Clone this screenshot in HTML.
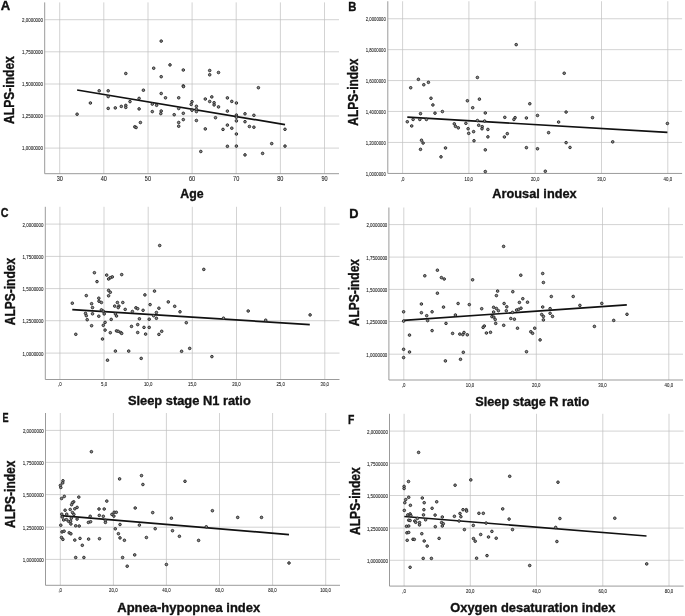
<!DOCTYPE html>
<html lang="en">
<head>
<meta charset="utf-8">
<title>ALPS-index scatter plots</title>
<style>
html,body{margin:0;padding:0;background:#fff;}
body{width:685px;height:616px;overflow:hidden;}
svg{display:block;}
text{font-family:"Liberation Sans",sans-serif;}
.b{font-weight:bold;font-size:12.8px;fill:#111;stroke:#111;stroke-width:0.35;}
.yl{font-size:13.9px;}
.ti{font-size:13.1px;}
.le{font-size:13.2px;}
.t{font-size:5.5px;fill:#262626;stroke:#262626;stroke-width:0.1;}
.g{stroke:#c0c0c0;stroke-width:0.7;fill:none;}
.ax{stroke:#909090;stroke-width:0.9;fill:none;}
.fit{stroke:#111;stroke-width:1.7;fill:none;stroke-linecap:butt;}
.p circle{fill:#8c8c8c;stroke:#222;stroke-width:0.9;}
</style>
</head>
<body>
<svg width="685" height="616" viewBox="0 0 685 616">
<rect width="685" height="616" fill="#ffffff"/>
<g id="panel-A">
<g transform="translate(0 0.4)">
<path class="g" d="M59.7 2V173.3M103.8 2V173.3M148 2V173.3M192.1 2V173.3M236.2 2V173.3M280.4 2V173.3M324.5 2V173.3M44.7 19.3H339M44.7 51.4H339M44.7 83.6H339M44.7 115.6H339M44.7 147.7H339"/>
<path class="ax" d="M44.7 2V173.3H339"/>
<text class="t" transform="translate(22.08 21.30) scale(0.8071 1)">2,0000000</text>
<text class="t" transform="translate(21.99 53.40) scale(0.8105 1)">1,7500000</text>
<text class="t" transform="translate(21.99 85.60) scale(0.8105 1)">1,5000000</text>
<text class="t" transform="translate(21.99 117.60) scale(0.8105 1)">1,2500000</text>
<text class="t" transform="translate(21.99 149.70) scale(0.8105 1)">1,0000000</text>
<text class="t" style="font-size:6.6px" transform="translate(56.63 180.61) scale(0.8400 1)">30</text>
<text class="t" style="font-size:6.6px" transform="translate(100.79 180.61) scale(0.8400 1)">40</text>
<text class="t" style="font-size:6.6px" transform="translate(144.87 180.61) scale(0.8400 1)">50</text>
<text class="t" style="font-size:6.6px" transform="translate(188.97 180.61) scale(0.8400 1)">60</text>
<text class="t" style="font-size:6.6px" transform="translate(233.10 180.61) scale(0.8400 1)">70</text>
<text class="t" style="font-size:6.6px" transform="translate(277.26 180.61) scale(0.8400 1)">80</text>
<text class="t" style="font-size:6.6px" transform="translate(321.39 180.61) scale(0.8400 1)">90</text>
<line class="fit" x1="77.1" y1="89.6" x2="285" y2="124.2"/>
<g class="p"><circle cx="77.1" cy="113.8" r="1.3"/><circle cx="90.4" cy="102.6" r="1.3"/><circle cx="99.2" cy="90.4" r="1.3"/><circle cx="108.2" cy="90.4" r="1.3"/><circle cx="108.2" cy="96.2" r="1.3"/><circle cx="108.2" cy="108" r="1.3"/><circle cx="115.3" cy="107.5" r="1.3"/><circle cx="121.3" cy="106" r="1.3"/><circle cx="125.8" cy="73.1" r="1.3"/><circle cx="125.8" cy="105" r="1.3"/><circle cx="125.8" cy="107" r="1.3"/><circle cx="130" cy="101.2" r="1.3"/><circle cx="134.8" cy="126.4" r="1.3"/><circle cx="136.1" cy="127.1" r="1.3"/><circle cx="139.1" cy="98" r="1.3"/><circle cx="139.1" cy="108.5" r="1.3"/><circle cx="140.4" cy="122.1" r="1.3"/><circle cx="143.4" cy="89.8" r="1.3"/><circle cx="153.7" cy="67.8" r="1.3"/><circle cx="152.3" cy="103.7" r="1.3"/><circle cx="152.3" cy="111.2" r="1.3"/><circle cx="156.6" cy="104.9" r="1.3"/><circle cx="161.2" cy="40.7" r="1.3"/><circle cx="161.2" cy="76.3" r="1.3"/><circle cx="161.2" cy="93.1" r="1.3"/><circle cx="161.2" cy="110.6" r="1.3"/><circle cx="160.8" cy="113.2" r="1.3"/><circle cx="165.5" cy="97.4" r="1.3"/><circle cx="170" cy="64.5" r="1.3"/><circle cx="174.2" cy="114.3" r="1.3"/><circle cx="178.7" cy="97.4" r="1.3"/><circle cx="178.7" cy="108.1" r="1.3"/><circle cx="178.7" cy="122.1" r="1.3"/><circle cx="178.7" cy="125.8" r="1.3"/><circle cx="183.3" cy="69.6" r="1.3"/><circle cx="183.3" cy="85.5" r="1.3"/><circle cx="183.5" cy="86.2" r="1.3"/><circle cx="183.3" cy="112.9" r="1.3"/><circle cx="183.3" cy="119.2" r="1.3"/><circle cx="192" cy="101.3" r="1.3"/><circle cx="191.2" cy="104" r="1.3"/><circle cx="192" cy="109.8" r="1.3"/><circle cx="196.4" cy="105.9" r="1.3"/><circle cx="196.4" cy="108.9" r="1.3"/><circle cx="196.4" cy="111.2" r="1.3"/><circle cx="196.4" cy="120.1" r="1.3"/><circle cx="200.8" cy="151.1" r="1.3"/><circle cx="205.3" cy="98.6" r="1.3"/><circle cx="205.3" cy="128.5" r="1.3"/><circle cx="209.7" cy="70.1" r="1.3"/><circle cx="209.7" cy="74.4" r="1.3"/><circle cx="209.7" cy="101.1" r="1.3"/><circle cx="211.8" cy="96.5" r="1.3"/><circle cx="214.1" cy="102.3" r="1.3"/><circle cx="214.1" cy="104.5" r="1.3"/><circle cx="215.5" cy="117.3" r="1.3"/><circle cx="218.5" cy="72.1" r="1.3"/><circle cx="218.5" cy="106.5" r="1.3"/><circle cx="223" cy="129" r="1.3"/><circle cx="227.4" cy="97.5" r="1.3"/><circle cx="227.4" cy="110.7" r="1.3"/><circle cx="227.4" cy="124.7" r="1.3"/><circle cx="227.4" cy="145.9" r="1.3"/><circle cx="231.8" cy="101" r="1.3"/><circle cx="231.8" cy="127.8" r="1.3"/><circle cx="236.4" cy="102.6" r="1.3"/><circle cx="236.4" cy="114.7" r="1.3"/><circle cx="236.4" cy="116.8" r="1.3"/><circle cx="236.4" cy="120.5" r="1.3"/><circle cx="236.4" cy="133.6" r="1.3"/><circle cx="236.4" cy="145.7" r="1.3"/><circle cx="245" cy="113.4" r="1.3"/><circle cx="245" cy="121.3" r="1.3"/><circle cx="245" cy="154.5" r="1.3"/><circle cx="249.4" cy="126.1" r="1.3"/><circle cx="253.9" cy="114.9" r="1.3"/><circle cx="253.9" cy="126.8" r="1.3"/><circle cx="258.4" cy="87.3" r="1.3"/><circle cx="262.6" cy="153" r="1.3"/><circle cx="271.7" cy="143.2" r="1.3"/><circle cx="285" cy="128.9" r="1.3"/><circle cx="285" cy="145.7" r="1.3"/></g>
</g>
<text class="b ti" transform="translate(180.25 197.90) scale(0.9402 1)">Age</text>
<text class="b le" transform="translate(0.74 10.00) scale(0.9915 1)">A</text>
<text class="b yl" transform="translate(13.70 123.70) rotate(-90) scale(0.8694 1) translate(-0.28 0)">ALPS-index</text>
</g>
<g id="panel-B">
<g transform="translate(0.1 0.25)">
<path class="g" d="M402.5 1V173.2M468.8 1V173.2M535.1 1V173.2M601.4 1V173.2M667.7 1V173.2M387.7 18.5H682M387.7 49.4H682M387.7 80.3H682M387.7 111.2H682M387.7 142.2H682"/>
<path class="ax" d="M387.7 1V173.2H682"/>
<text class="t" transform="translate(365.69 20.90) scale(0.7718 1)">2,0000000</text>
<text class="t" transform="translate(365.60 51.80) scale(0.7751 1)">1,8000000</text>
<text class="t" transform="translate(365.60 82.70) scale(0.7751 1)">1,6000000</text>
<text class="t" transform="translate(365.60 113.60) scale(0.7751 1)">1,4000000</text>
<text class="t" transform="translate(365.60 144.60) scale(0.7751 1)">1,2000000</text>
<text class="t" transform="translate(365.60 175.60) scale(0.7751 1)">1,0000000</text>
<text class="t" transform="translate(400.59 180.43) scale(0.7900 1)">,0</text>
<text class="t" transform="translate(464.50 180.43) scale(0.7900 1)">10,0</text>
<text class="t" transform="translate(530.84 180.43) scale(0.7900 1)">20,0</text>
<text class="t" transform="translate(597.19 180.43) scale(0.7900 1)">30,0</text>
<text class="t" transform="translate(663.51 180.43) scale(0.7900 1)">40,0</text>
<line class="fit" x1="407.2" y1="116.8" x2="667.3" y2="132.2"/>
<g class="p"><circle cx="418.3" cy="79.1" r="1.3"/><circle cx="428.3" cy="82.1" r="1.3"/><circle cx="423.7" cy="84.5" r="1.3"/><circle cx="410.6" cy="87.5" r="1.3"/><circle cx="477.3" cy="77.2" r="1.3"/><circle cx="430.9" cy="98" r="1.3"/><circle cx="432.8" cy="104.7" r="1.3"/><circle cx="467.3" cy="100.5" r="1.3"/><circle cx="479.3" cy="98.9" r="1.3"/><circle cx="472.6" cy="107.5" r="1.3"/><circle cx="420.4" cy="113.4" r="1.3"/><circle cx="434.9" cy="112.9" r="1.3"/><circle cx="442.3" cy="111.3" r="1.3"/><circle cx="485.2" cy="112.7" r="1.3"/><circle cx="407.2" cy="121.5" r="1.3"/><circle cx="413" cy="119.2" r="1.3"/><circle cx="419.7" cy="119.2" r="1.3"/><circle cx="426.3" cy="119.2" r="1.3"/><circle cx="411.6" cy="125.7" r="1.3"/><circle cx="454.2" cy="123.6" r="1.3"/><circle cx="455.4" cy="126.1" r="1.3"/><circle cx="458.2" cy="127.6" r="1.3"/><circle cx="465.8" cy="123.1" r="1.3"/><circle cx="468" cy="128.5" r="1.3"/><circle cx="468.6" cy="133.1" r="1.3"/><circle cx="473.5" cy="131.4" r="1.3"/><circle cx="477.3" cy="120.3" r="1.3"/><circle cx="478.6" cy="125" r="1.3"/><circle cx="482.1" cy="126.4" r="1.3"/><circle cx="481.9" cy="128.5" r="1.3"/><circle cx="484.5" cy="120.8" r="1.3"/><circle cx="487.8" cy="129.2" r="1.3"/><circle cx="487.8" cy="136.6" r="1.3"/><circle cx="473.9" cy="140.5" r="1.3"/><circle cx="421.4" cy="140" r="1.3"/><circle cx="504.7" cy="117.1" r="1.3"/><circle cx="504.3" cy="136.7" r="1.3"/><circle cx="423" cy="142.8" r="1.3"/><circle cx="420.4" cy="149.1" r="1.3"/><circle cx="445.4" cy="147.7" r="1.3"/><circle cx="440.9" cy="156.6" r="1.3"/><circle cx="485.2" cy="149.6" r="1.3"/><circle cx="485.2" cy="171.3" r="1.3"/><circle cx="516.1" cy="44.4" r="1.3"/><circle cx="564.1" cy="73" r="1.3"/><circle cx="529.7" cy="103.5" r="1.3"/><circle cx="566" cy="111.8" r="1.3"/><circle cx="537.4" cy="115.2" r="1.3"/><circle cx="515" cy="117.4" r="1.3"/><circle cx="513.8" cy="119.2" r="1.3"/><circle cx="526.3" cy="117.7" r="1.3"/><circle cx="558.5" cy="121.8" r="1.3"/><circle cx="592.4" cy="117.4" r="1.3"/><circle cx="667.3" cy="123.2" r="1.3"/><circle cx="507.2" cy="133.4" r="1.3"/><circle cx="548.5" cy="132.4" r="1.3"/><circle cx="566" cy="142.4" r="1.3"/><circle cx="569.9" cy="147.2" r="1.3"/><circle cx="526.3" cy="147.4" r="1.3"/><circle cx="537.4" cy="148.5" r="1.3"/><circle cx="545.2" cy="171" r="1.3"/><circle cx="612.6" cy="141.6" r="1.3"/></g>
</g>
<text class="b ti" transform="translate(492.34 198.20) scale(0.9747 1)">Arousal index</text>
<text class="b le" transform="translate(348.22 10.90) scale(0.8553 1)">B</text>
<text class="b yl" transform="translate(357.90 125.40) rotate(-90) scale(0.8604 1) translate(-0.28 0)">ALPS-index</text>
</g>
<g id="panel-C">
<g transform="translate(0 0)">
<path class="g" d="M59.9 206.8V379.5M104 206.8V379.5M148.2 206.8V379.5M192.3 206.8V379.5M236.5 206.8V379.5M280.6 206.8V379.5M324.8 206.8V379.5M45.3 224.1H339.5M45.3 256.4H339.5M45.3 288.6H339.5M45.3 320.7H339.5M45.3 353.1H339.5"/>
<path class="ax" d="M45.3 206.8V379.5H339.5"/>
<text class="t" transform="translate(22.58 226.50) scale(0.8071 1)">2,0000000</text>
<text class="t" transform="translate(22.49 258.80) scale(0.8105 1)">1,7500000</text>
<text class="t" transform="translate(22.49 291.00) scale(0.8105 1)">1,5000000</text>
<text class="t" transform="translate(22.49 323.10) scale(0.8105 1)">1,2500000</text>
<text class="t" transform="translate(22.49 355.50) scale(0.8105 1)">1,0000000</text>
<text class="t" transform="translate(57.99 386.12) scale(0.7900 1)">,0</text>
<text class="t" transform="translate(101.02 386.12) scale(0.7900 1)">5,0</text>
<text class="t" transform="translate(143.90 386.12) scale(0.7900 1)">10,0</text>
<text class="t" transform="translate(188.05 386.12) scale(0.7900 1)">15,0</text>
<text class="t" transform="translate(232.24 386.12) scale(0.7900 1)">20,0</text>
<text class="t" transform="translate(276.39 386.12) scale(0.7900 1)">25,0</text>
<text class="t" transform="translate(320.59 386.12) scale(0.7900 1)">30,0</text>
<line class="fit" x1="72.3" y1="309.7" x2="309.8" y2="324.6"/>
<g class="p"><circle cx="159.7" cy="245.5" r="1.3"/><circle cx="94.4" cy="272.7" r="1.3"/><circle cx="106.7" cy="275.1" r="1.3"/><circle cx="112.3" cy="276.9" r="1.3"/><circle cx="110.3" cy="277.7" r="1.3"/><circle cx="108.6" cy="279" r="1.3"/><circle cx="121.7" cy="274.6" r="1.3"/><circle cx="97" cy="281.6" r="1.3"/><circle cx="108.6" cy="290.4" r="1.3"/><circle cx="110.3" cy="292.3" r="1.3"/><circle cx="108.6" cy="295.8" r="1.3"/><circle cx="86.3" cy="295.6" r="1.3"/><circle cx="98.8" cy="298.2" r="1.3"/><circle cx="99" cy="301.2" r="1.3"/><circle cx="101.4" cy="302.5" r="1.3"/><circle cx="72.3" cy="303.2" r="1.3"/><circle cx="91.6" cy="303.7" r="1.3"/><circle cx="117.4" cy="302.5" r="1.3"/><circle cx="122.8" cy="302.5" r="1.3"/><circle cx="114.7" cy="306.1" r="1.3"/><circle cx="118.9" cy="306.1" r="1.3"/><circle cx="144.9" cy="294.9" r="1.3"/><circle cx="154.5" cy="291.1" r="1.3"/><circle cx="150.1" cy="304.6" r="1.3"/><circle cx="92.5" cy="307.6" r="1.3"/><circle cx="118.2" cy="307.6" r="1.3"/><circle cx="135.9" cy="307.8" r="1.3"/><circle cx="137.7" cy="308.7" r="1.3"/><circle cx="125.2" cy="309.4" r="1.3"/><circle cx="143.1" cy="310.3" r="1.3"/><circle cx="158.9" cy="308.2" r="1.3"/><circle cx="132.4" cy="311.5" r="1.3"/><circle cx="101.4" cy="309.9" r="1.3"/><circle cx="103.2" cy="311.1" r="1.3"/><circle cx="85.5" cy="313.4" r="1.3"/><circle cx="86.3" cy="315.7" r="1.3"/><circle cx="92.5" cy="313.8" r="1.3"/><circle cx="98.8" cy="316.2" r="1.3"/><circle cx="104.2" cy="313.9" r="1.3"/><circle cx="115.4" cy="313.9" r="1.3"/><circle cx="116.5" cy="316" r="1.3"/><circle cx="87.2" cy="319.7" r="1.3"/><circle cx="111.2" cy="319.4" r="1.3"/><circle cx="156.4" cy="312.5" r="1.3"/><circle cx="153.6" cy="315.7" r="1.3"/><circle cx="156.4" cy="318.3" r="1.3"/><circle cx="139.4" cy="318.8" r="1.3"/><circle cx="149.2" cy="319.2" r="1.3"/><circle cx="105.1" cy="322.4" r="1.3"/><circle cx="103.3" cy="325.3" r="1.3"/><circle cx="91.6" cy="325.7" r="1.3"/><circle cx="137.7" cy="324.6" r="1.3"/><circle cx="131.5" cy="326.4" r="1.3"/><circle cx="144" cy="327.4" r="1.3"/><circle cx="149.2" cy="327.4" r="1.3"/><circle cx="105.1" cy="330.1" r="1.3"/><circle cx="110.3" cy="332.7" r="1.3"/><circle cx="116.5" cy="330.9" r="1.3"/><circle cx="118.2" cy="331.3" r="1.3"/><circle cx="120.7" cy="332.5" r="1.3"/><circle cx="121.7" cy="333.4" r="1.3"/><circle cx="137.7" cy="332.5" r="1.3"/><circle cx="145.6" cy="334.1" r="1.3"/><circle cx="161.7" cy="331.3" r="1.3"/><circle cx="158.9" cy="334.4" r="1.3"/><circle cx="75.8" cy="334.3" r="1.3"/><circle cx="102.5" cy="339" r="1.3"/><circle cx="115.4" cy="351.1" r="1.3"/><circle cx="128.7" cy="351.1" r="1.3"/><circle cx="141.2" cy="358.4" r="1.3"/><circle cx="107.5" cy="360.2" r="1.3"/><circle cx="203.8" cy="269.4" r="1.3"/><circle cx="168.3" cy="301.9" r="1.3"/><circle cx="174.7" cy="306.3" r="1.3"/><circle cx="180" cy="311.8" r="1.3"/><circle cx="186.3" cy="322.7" r="1.3"/><circle cx="189.7" cy="348.4" r="1.3"/><circle cx="223.5" cy="318.2" r="1.3"/><circle cx="248.2" cy="311" r="1.3"/><circle cx="265.7" cy="320.2" r="1.3"/><circle cx="310.1" cy="314.9" r="1.3"/><circle cx="181.6" cy="351.3" r="1.3"/><circle cx="211.9" cy="356.6" r="1.3"/></g>
</g>
<text class="b ti" transform="translate(127.94 405.00) scale(0.9811 1)">Sleep stage N1 ratio</text>
<text class="b le" transform="translate(0.67 216.80) scale(0.8150 1)">C</text>
<text class="b yl" transform="translate(15.00 324.90) rotate(-90) scale(0.8617 1) translate(-0.28 0)">ALPS-index</text>
</g>
<g id="panel-D">
<g transform="translate(0 0)">
<path class="g" d="M403.8 207.5V380M470.1 207.5V380M536.3 207.5V380M602.5 207.5V380M668.8 207.5V380M388.9 224.6H683M388.9 257.1H683M388.9 289.4H683M388.9 321.5H683M388.9 354.2H683"/>
<path class="ax" d="M388.9 207.5V380H683"/>
<text class="t" transform="translate(366.38 227.00) scale(0.8071 1)">2,0000000</text>
<text class="t" transform="translate(366.29 259.50) scale(0.8105 1)">1,7500000</text>
<text class="t" transform="translate(366.29 291.80) scale(0.8105 1)">1,5000000</text>
<text class="t" transform="translate(366.29 323.90) scale(0.8105 1)">1,2500000</text>
<text class="t" transform="translate(366.29 356.60) scale(0.8105 1)">1,0000000</text>
<text class="t" transform="translate(401.89 386.53) scale(0.7900 1)">,0</text>
<text class="t" transform="translate(465.75 386.53) scale(0.7900 1)">10,0</text>
<text class="t" transform="translate(532.04 386.53) scale(0.7900 1)">20,0</text>
<text class="t" transform="translate(598.34 386.53) scale(0.7900 1)">30,0</text>
<text class="t" transform="translate(664.61 386.53) scale(0.7900 1)">40,0</text>
<line class="fit" x1="403.6" y1="320.4" x2="626.8" y2="304.9"/>
<g class="p"><circle cx="503.6" cy="246.4" r="1.3"/><circle cx="437.4" cy="270.2" r="1.3"/><circle cx="424.8" cy="275.8" r="1.3"/><circle cx="441.4" cy="277.6" r="1.3"/><circle cx="444.2" cy="279" r="1.3"/><circle cx="472.6" cy="279.8" r="1.3"/><circle cx="437.4" cy="293.2" r="1.3"/><circle cx="497.6" cy="291.1" r="1.3"/><circle cx="496.4" cy="295.6" r="1.3"/><circle cx="421.4" cy="304" r="1.3"/><circle cx="458.1" cy="303.5" r="1.3"/><circle cx="469.3" cy="304.6" r="1.3"/><circle cx="504.1" cy="303.5" r="1.3"/><circle cx="443.5" cy="307.1" r="1.3"/><circle cx="493.6" cy="307.3" r="1.3"/><circle cx="496.4" cy="308.5" r="1.3"/><circle cx="481.7" cy="308.7" r="1.3"/><circle cx="498.4" cy="310.7" r="1.3"/><circle cx="493.6" cy="312" r="1.3"/><circle cx="403.6" cy="311.8" r="1.3"/><circle cx="421.4" cy="312.7" r="1.3"/><circle cx="432.1" cy="311.8" r="1.3"/><circle cx="426.7" cy="315.7" r="1.3"/><circle cx="455.4" cy="315" r="1.3"/><circle cx="491.9" cy="316.6" r="1.3"/><circle cx="493.8" cy="317.1" r="1.3"/><circle cx="495.2" cy="319.5" r="1.3"/><circle cx="403.6" cy="321.1" r="1.3"/><circle cx="427.6" cy="320.6" r="1.3"/><circle cx="446" cy="323.4" r="1.3"/><circle cx="495.7" cy="323.4" r="1.3"/><circle cx="503.7" cy="325.3" r="1.3"/><circle cx="484.3" cy="326" r="1.3"/><circle cx="483.1" cy="327.4" r="1.3"/><circle cx="432.1" cy="330.6" r="1.3"/><circle cx="452.6" cy="333.4" r="1.3"/><circle cx="459.8" cy="334.1" r="1.3"/><circle cx="464" cy="332.5" r="1.3"/><circle cx="462.8" cy="334.6" r="1.3"/><circle cx="467.3" cy="334.8" r="1.3"/><circle cx="486.4" cy="333" r="1.3"/><circle cx="490.5" cy="332.3" r="1.3"/><circle cx="409.5" cy="335.1" r="1.3"/><circle cx="403.6" cy="349.3" r="1.3"/><circle cx="409.5" cy="352" r="1.3"/><circle cx="463.3" cy="352.3" r="1.3"/><circle cx="403.6" cy="357.6" r="1.3"/><circle cx="460.5" cy="359.3" r="1.3"/><circle cx="445.4" cy="360.9" r="1.3"/><circle cx="543.4" cy="282.5" r="1.3"/><circle cx="512.8" cy="291.7" r="1.3"/><circle cx="551.3" cy="296.5" r="1.3"/><circle cx="573.2" cy="296.5" r="1.3"/><circle cx="522.8" cy="298.7" r="1.3"/><circle cx="519.4" cy="302.4" r="1.3"/><circle cx="527.5" cy="302.2" r="1.3"/><circle cx="506.8" cy="306.8" r="1.3"/><circle cx="506.3" cy="310.8" r="1.3"/><circle cx="512.4" cy="312.4" r="1.3"/><circle cx="516.6" cy="310" r="1.3"/><circle cx="518.7" cy="309.3" r="1.3"/><circle cx="521" cy="308.2" r="1.3"/><circle cx="542.7" cy="307" r="1.3"/><circle cx="550.1" cy="308.6" r="1.3"/><circle cx="579.9" cy="305.4" r="1.3"/><circle cx="601.8" cy="303.4" r="1.3"/><circle cx="510.8" cy="318.5" r="1.3"/><circle cx="514.4" cy="319.2" r="1.3"/><circle cx="517.5" cy="328.2" r="1.3"/><circle cx="541.7" cy="314.5" r="1.3"/><circle cx="543.4" cy="316.4" r="1.3"/><circle cx="550.1" cy="313.3" r="1.3"/><circle cx="552.5" cy="316.4" r="1.3"/><circle cx="543.4" cy="319.9" r="1.3"/><circle cx="534.7" cy="328.2" r="1.3"/><circle cx="530.8" cy="331.7" r="1.3"/><circle cx="532.6" cy="333.3" r="1.3"/><circle cx="540.1" cy="339.9" r="1.3"/><circle cx="594.4" cy="326.4" r="1.3"/><circle cx="526.5" cy="351.7" r="1.3"/><circle cx="520.8" cy="275.2" r="1.3"/><circle cx="542.7" cy="273.5" r="1.3"/><circle cx="627" cy="314.3" r="1.3"/><circle cx="613.7" cy="320.4" r="1.3"/></g>
</g>
<text class="b ti" transform="translate(475.35 406.00) scale(0.9678 1)">Sleep stage R ratio</text>
<text class="b le" transform="translate(349.23 217.60) scale(0.9740 1)">D</text>
<text class="b yl" transform="translate(358.90 326.00) rotate(-90) scale(0.8617 1) translate(-0.28 0)">ALPS-index</text>
</g>
<g id="panel-E">
<g transform="translate(0 0)">
<path class="g" d="M60.3 413V585.3M113.4 413V585.3M166.4 413V585.3M219.5 413V585.3M272.6 413V585.3M325.7 413V585.3M45.5 430.4H340M45.5 462.4H340M45.5 494.6H340M45.5 527.2H340M45.5 559.4H340"/>
<path class="ax" d="M45.5 413V585.3H340"/>
<text class="t" transform="translate(22.88 432.80) scale(0.8071 1)">2,0000000</text>
<text class="t" transform="translate(22.79 464.80) scale(0.8105 1)">1,7500000</text>
<text class="t" transform="translate(22.79 497.00) scale(0.8105 1)">1,5000000</text>
<text class="t" transform="translate(22.79 529.60) scale(0.8105 1)">1,2500000</text>
<text class="t" transform="translate(22.79 561.80) scale(0.8105 1)">1,0000000</text>
<text class="t" transform="translate(58.39 592.22) scale(0.7900 1)">,0</text>
<text class="t" transform="translate(109.11 592.22) scale(0.7900 1)">20,0</text>
<text class="t" transform="translate(162.25 592.22) scale(0.7900 1)">40,0</text>
<text class="t" transform="translate(215.25 592.22) scale(0.7900 1)">60,0</text>
<text class="t" transform="translate(268.34 592.22) scale(0.7900 1)">80,0</text>
<text class="t" transform="translate(320.14 592.22) scale(0.7900 1)">100,0</text>
<line class="fit" x1="60.8" y1="515.6" x2="289" y2="534.6"/>
<g class="p"><circle cx="91.4" cy="451.7" r="1.3"/><circle cx="63" cy="480.8" r="1.3"/><circle cx="62.7" cy="482.9" r="1.3"/><circle cx="60.4" cy="485.4" r="1.3"/><circle cx="60.8" cy="487.5" r="1.3"/><circle cx="119.6" cy="478.9" r="1.3"/><circle cx="141.5" cy="475.6" r="1.3"/><circle cx="142.9" cy="484.5" r="1.3"/><circle cx="64.3" cy="496.4" r="1.3"/><circle cx="61.6" cy="498.5" r="1.3"/><circle cx="78.8" cy="497.1" r="1.3"/><circle cx="73.7" cy="501.8" r="1.3"/><circle cx="72.5" cy="502.7" r="1.3"/><circle cx="71.6" cy="504.7" r="1.3"/><circle cx="106.8" cy="501.1" r="1.3"/><circle cx="77.1" cy="507.4" r="1.3"/><circle cx="74.8" cy="508.8" r="1.3"/><circle cx="70.2" cy="509.5" r="1.3"/><circle cx="65.1" cy="510.2" r="1.3"/><circle cx="99" cy="509" r="1.3"/><circle cx="104.2" cy="509" r="1.3"/><circle cx="135.2" cy="508" r="1.3"/><circle cx="152.7" cy="512.6" r="1.3"/><circle cx="114.2" cy="512.3" r="1.3"/><circle cx="116.3" cy="512.3" r="1.3"/><circle cx="111.9" cy="514.4" r="1.3"/><circle cx="113.9" cy="516.1" r="1.3"/><circle cx="99.3" cy="515.4" r="1.3"/><circle cx="103.3" cy="516.3" r="1.3"/><circle cx="90.2" cy="516.3" r="1.3"/><circle cx="72.5" cy="512.6" r="1.3"/><circle cx="73.9" cy="514.4" r="1.3"/><circle cx="61.8" cy="514.2" r="1.3"/><circle cx="66.7" cy="514.2" r="1.3"/><circle cx="62.2" cy="517" r="1.3"/><circle cx="63.7" cy="520" r="1.3"/><circle cx="66.4" cy="519.6" r="1.3"/><circle cx="71.3" cy="518.2" r="1.3"/><circle cx="77.1" cy="519.1" r="1.3"/><circle cx="68.7" cy="521.4" r="1.3"/><circle cx="70.6" cy="521.2" r="1.3"/><circle cx="70.9" cy="524" r="1.3"/><circle cx="60.8" cy="525.2" r="1.3"/><circle cx="75.7" cy="525.8" r="1.3"/><circle cx="79.2" cy="526" r="1.3"/><circle cx="88.4" cy="522.4" r="1.3"/><circle cx="90.6" cy="521.7" r="1.3"/><circle cx="105.4" cy="520.5" r="1.3"/><circle cx="105.4" cy="522.4" r="1.3"/><circle cx="120" cy="524.5" r="1.3"/><circle cx="139.4" cy="525.1" r="1.3"/><circle cx="155.2" cy="528.7" r="1.3"/><circle cx="115.3" cy="528.8" r="1.3"/><circle cx="118.4" cy="533.7" r="1.3"/><circle cx="120" cy="537.9" r="1.3"/><circle cx="124.4" cy="540.3" r="1.3"/><circle cx="146.4" cy="537.5" r="1.3"/><circle cx="62" cy="531.9" r="1.3"/><circle cx="64.1" cy="531.2" r="1.3"/><circle cx="69.2" cy="532.8" r="1.3"/><circle cx="70.9" cy="533.8" r="1.3"/><circle cx="61.5" cy="537.5" r="1.3"/><circle cx="62.9" cy="539.4" r="1.3"/><circle cx="74.8" cy="540.1" r="1.3"/><circle cx="80" cy="538.4" r="1.3"/><circle cx="88.6" cy="539.1" r="1.3"/><circle cx="99.5" cy="538.7" r="1.3"/><circle cx="82.3" cy="545.3" r="1.3"/><circle cx="75.7" cy="557.5" r="1.3"/><circle cx="83.9" cy="557.5" r="1.3"/><circle cx="122.6" cy="557.5" r="1.3"/><circle cx="134.7" cy="554.9" r="1.3"/><circle cx="127.2" cy="566.2" r="1.3"/><circle cx="185" cy="481.3" r="1.3"/><circle cx="171.4" cy="518.2" r="1.3"/><circle cx="212.4" cy="510.7" r="1.3"/><circle cx="237.7" cy="517.4" r="1.3"/><circle cx="261.5" cy="517.4" r="1.3"/><circle cx="206.3" cy="526.8" r="1.3"/><circle cx="172.5" cy="530.7" r="1.3"/><circle cx="179.4" cy="536.3" r="1.3"/><circle cx="198.6" cy="540.4" r="1.3"/><circle cx="166.4" cy="564.5" r="1.3"/><circle cx="289" cy="563" r="1.3"/></g>
</g>
<text class="b ti" transform="translate(117.24 611.50) scale(0.9925 1)">Apnea-hypopnea index</text>
<text class="b le" transform="translate(2.45 422.30) scale(0.6911 1)">E</text>
<text class="b yl" transform="translate(15.20 527.70) rotate(-90) scale(0.8642 1) translate(-0.28 0)">ALPS-index</text>
</g>
<g id="panel-F">
<g transform="translate(0 0)">
<path class="g" d="M404.1 413.8V586.1M470.3 413.8V586.1M536.5 413.8V586.1M602.8 413.8V586.1M669 413.8V586.1M389.5 431.1H683.6M389.5 463.2H683.6M389.5 495.5H683.6M389.5 528.1H683.6M389.5 560.3H683.6"/>
<path class="ax" d="M389.5 413.8V586.1H683.6"/>
<text class="t" transform="translate(366.98 433.50) scale(0.8071 1)">2,0000000</text>
<text class="t" transform="translate(366.89 465.60) scale(0.8105 1)">1,7500000</text>
<text class="t" transform="translate(366.89 497.90) scale(0.8105 1)">1,5000000</text>
<text class="t" transform="translate(366.89 530.50) scale(0.8105 1)">1,2500000</text>
<text class="t" transform="translate(366.89 562.70) scale(0.8105 1)">1,0000000</text>
<text class="t" transform="translate(402.19 593.22) scale(0.7900 1)">,0</text>
<text class="t" transform="translate(466.06 593.22) scale(0.7900 1)">20,0</text>
<text class="t" transform="translate(532.35 593.22) scale(0.7900 1)">40,0</text>
<text class="t" transform="translate(598.50 593.22) scale(0.7900 1)">60,0</text>
<text class="t" transform="translate(664.74 593.22) scale(0.7900 1)">80,0</text>
<line class="fit" x1="404.3" y1="516.5" x2="646.5" y2="536"/>
<g class="p"><circle cx="418.6" cy="452.4" r="1.3"/><circle cx="408.5" cy="481.5" r="1.3"/><circle cx="404.1" cy="486.4" r="1.3"/><circle cx="404.1" cy="488.5" r="1.3"/><circle cx="455.1" cy="485.2" r="1.3"/><circle cx="470.8" cy="479.9" r="1.3"/><circle cx="408.7" cy="497.3" r="1.3"/><circle cx="405.7" cy="499.6" r="1.3"/><circle cx="404.8" cy="502.7" r="1.3"/><circle cx="410.4" cy="505.3" r="1.3"/><circle cx="422.3" cy="498" r="1.3"/><circle cx="424.2" cy="502.7" r="1.3"/><circle cx="436.7" cy="501.8" r="1.3"/><circle cx="432.1" cy="508.3" r="1.3"/><circle cx="423.9" cy="509.7" r="1.3"/><circle cx="404.3" cy="510.4" r="1.3"/><circle cx="463" cy="509.7" r="1.3"/><circle cx="466.3" cy="509.7" r="1.3"/><circle cx="466.6" cy="511.1" r="1.3"/><circle cx="502.7" cy="508.9" r="1.3"/><circle cx="478.9" cy="513.3" r="1.3"/><circle cx="483.3" cy="513.3" r="1.3"/><circle cx="460" cy="513.5" r="1.3"/><circle cx="460.9" cy="516.7" r="1.3"/><circle cx="454.4" cy="516.3" r="1.3"/><circle cx="435.1" cy="515.1" r="1.3"/><circle cx="423.5" cy="514.9" r="1.3"/><circle cx="407.8" cy="514.9" r="1.3"/><circle cx="410.1" cy="513.9" r="1.3"/><circle cx="410.9" cy="515.6" r="1.3"/><circle cx="442.3" cy="517" r="1.3"/><circle cx="425.6" cy="519.8" r="1.3"/><circle cx="417.4" cy="518.4" r="1.3"/><circle cx="408.7" cy="520.2" r="1.3"/><circle cx="410.1" cy="520.5" r="1.3"/><circle cx="414.8" cy="521" r="1.3"/><circle cx="415.7" cy="522.3" r="1.3"/><circle cx="419.5" cy="522.6" r="1.3"/><circle cx="419.5" cy="524.9" r="1.3"/><circle cx="406.5" cy="526.3" r="1.3"/><circle cx="408.7" cy="526" r="1.3"/><circle cx="441.6" cy="522.6" r="1.3"/><circle cx="443.3" cy="523.7" r="1.3"/><circle cx="442.3" cy="526" r="1.3"/><circle cx="435.3" cy="526.7" r="1.3"/><circle cx="459.1" cy="521" r="1.3"/><circle cx="473.3" cy="525.4" r="1.3"/><circle cx="486.1" cy="523.1" r="1.3"/><circle cx="464.4" cy="529.6" r="1.3"/><circle cx="491.9" cy="531.4" r="1.3"/><circle cx="480.7" cy="534.5" r="1.3"/><circle cx="406.9" cy="532.8" r="1.3"/><circle cx="408.7" cy="532.4" r="1.3"/><circle cx="421.8" cy="533.7" r="1.3"/><circle cx="439.1" cy="538.4" r="1.3"/><circle cx="407.2" cy="540.3" r="1.3"/><circle cx="413" cy="539.3" r="1.3"/><circle cx="414.3" cy="539.4" r="1.3"/><circle cx="424.2" cy="541" r="1.3"/><circle cx="427.2" cy="546.1" r="1.3"/><circle cx="473.5" cy="538.6" r="1.3"/><circle cx="475.2" cy="541.2" r="1.3"/><circle cx="488.5" cy="537" r="1.3"/><circle cx="496.2" cy="538.2" r="1.3"/><circle cx="487" cy="555.6" r="1.3"/><circle cx="476.6" cy="558.2" r="1.3"/><circle cx="423.2" cy="558.4" r="1.3"/><circle cx="431.4" cy="558.4" r="1.3"/><circle cx="410.1" cy="567.3" r="1.3"/><circle cx="509.7" cy="476.3" r="1.3"/><circle cx="558" cy="482.2" r="1.3"/><circle cx="509.1" cy="519.1" r="1.3"/><circle cx="559.9" cy="518.5" r="1.3"/><circle cx="614.8" cy="518.2" r="1.3"/><circle cx="555.7" cy="527.4" r="1.3"/><circle cx="512.5" cy="529.6" r="1.3"/><circle cx="556.9" cy="541.5" r="1.3"/><circle cx="529.7" cy="565.5" r="1.3"/><circle cx="646.7" cy="563.9" r="1.3"/></g>
</g>
<text class="b ti" transform="translate(450.28 612.10) scale(0.9830 1)">Oxygen desaturation index</text>
<text class="b le" transform="translate(347.88 424.20) scale(0.7867 1)">F</text>
<text class="b yl" transform="translate(359.50 534.70) rotate(-90) scale(0.8668 1) translate(-0.28 0)">ALPS-index</text>
</g>
</svg>
</body>
</html>
